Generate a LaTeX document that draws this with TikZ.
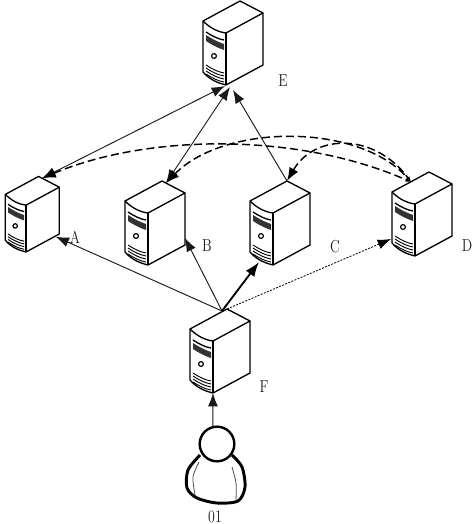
\documentclass[tikz,border=0pt]{standalone}
\usepackage{tikz}
\usetikzlibrary{arrows.meta}
\tikzset{
lbl/.style={font=\fontsize{13}{15}\selectfont, xscale=0.8, text=black!90, inner sep=0pt},
arr/.style={black!90, line width=0.7pt, -{Latex[length=10pt, width=7.5pt]}},
barr/.style={black!90, line width=0.7pt, {Latex[length=10pt, width=7.5pt]}-{Latex[length=10pt, width=7.5pt]}},
thick arr/.style={line width=1.4pt, -{Latex[length=11pt, width=8pt]}},
dot arr/.style={black, line width=0.6pt, dash pattern=on 1.5pt off 1pt, -{Latex[length=10pt, width=7.5pt]}},
dash arr/.style={line width=1.1pt, dash pattern=on 6pt off 3pt, {Latex[length=10pt, width=7.5pt]}-{Latex[length=4pt, width=3pt]}},
server/.pic={
\draw[line width=1pt, line join=round, fill=white] (-23,-64) -- (14,-84) -- (37,-72) -- (37,-20) -- (0,0) .. controls (-8,-2) and (-16,-5) .. (-23,-13) -- cycle;
\draw[line width=1pt] (-23,-64) .. controls (-16,-57) and (-8,-53) .. (0,-52) -- (37,-72);
\draw[line width=1pt] (0,-52) -- (0,0);
\draw[line width=1pt] (-20,-53) .. controls (-14,-49) and (-8,-46) .. (-2,-45);
\fill[black!80] (-20,-50) .. controls (-14,-46) and (-8,-43) .. (-2,-41) -- (-2,-35) .. controls (-8,-37) and (-14,-40) .. (-20,-44) -- cycle;
\draw[line width=0.9pt] (-12,-29) circle (2.4);
\foreach \k in {0,1,2,3}
\draw[line width=0.7pt] (-20,-20+3*\k) .. controls (-14,-16+3*\k) and (-8,-13+3*\k) .. (-2,-12+3*\k);
\coordinate (-top) at (14,-84);
\coordinate (-bot) at (0,0);
\coordinate (-src) at (9,-82);
\coordinate (-inr) at (18,-82);
\coordinate (-inl) at (-4,-74);
\coordinate (-botl) at (-1,1);
\coordinate (-botm) at (4,2);
\coordinate (-botr) at (7,5);
\coordinate (-eastb) at (37,-27);
\coordinate (-seast) at (33,-17);
\coordinate (-west) at (-24,-17);
\coordinate (-swest) at (-14,-3);
}
}
\begin{document}
\begin{tikzpicture}[x=0.75pt, y=-0.75pt]
\useasboundingbox (0,0) rectangle (474,524);
\pic (srvE) at (226,85) {server};
\pic[scale=0.9] (srvA) at (26,252) {server};
\pic (srvB) at (148,265) {server};
\pic (srvC) at (273,265) {server};
\pic (srvD) at (415,256) {server};
\pic (srvF) at (213,393) {server};
\node[lbl] (lblE) at (283,81) {E};
\node[lbl] (lblA) at (75,237) {A};
\node[lbl] (lblB) at (207,246) {B};
\node[lbl] (lblC) at (335,247) {C};
\node[lbl] (lblD) at (467,246) {D};
\node[lbl] (lblF) at (264,387) {F};
\node[lbl] (lblU) at (215,517) {01};
% user
\draw[line width=2.2pt, line join=round] plot[smooth] coordinates {(200,455) (188,470) (187,488) (197,498) (217,503) (238,501) (245,487) (242,467) (232,455)};
\draw[black!70, line width=0.6pt] plot[smooth] coordinates {(199,462) (193,477) (195,495)};
\draw[black!70, line width=0.6pt] plot[smooth] coordinates {(232,467) (236,483) (236,500)};
\node[circle, draw, fill=white, line width=1.8pt, minimum size=26pt, inner sep=0pt] (head) at (217,444) {};
\draw[arr] (head.103) -- (srvF-bot);
% connectors
\foreach \a/\b in {srvF-src/srvA-seast, srvF-src/srvB-eastb, srvC-top/srvE-botr}
\draw[arr] (\a) -- (\b);
\foreach \a/\b in {srvE-botl/srvA-inr, srvE-botm/srvB-inr}
\draw[barr] (\a) -- (\b);
\draw[thick arr] (srvF-src) -- (srvC-swest);
\draw[dot arr] (srvF-top) -- (srvD-west);
\draw[dash arr] (srvA-inr) .. controls (150,133) and (300,133) .. (srvD-inl);
\draw[dash arr] (srvB-inr) .. controls (225,123) and (360,123) .. (srvD-inl);
\draw[dash arr] (srvC-top) .. controls (315,133) and (375,133) .. (srvD-inl);
\end{tikzpicture}
\end{document}
